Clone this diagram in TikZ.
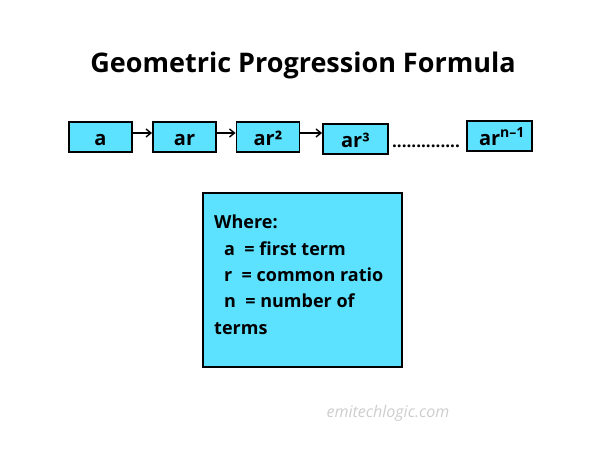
\documentclass[tikz,border=0pt]{standalone}
\usepackage{fontspec}
\setmainfont{Open Sans}
\usetikzlibrary{positioning,arrows.meta,calc}
\definecolor{boxc}{RGB}{92,225,255}
\definecolor{markc}{RGB}{205,205,205}
\tikzset{
  term/.style={draw=black, fill=boxc, line width=1.8pt, minimum width=63pt,
    minimum height=30pt, inner sep=0pt, text height=17pt, text depth=0pt,
    font=\fontsize{20}{24}\selectfont\bfseries},
  link/.style={-{Straight Barb[length=5pt,width=8pt]}, line width=1.4pt},
  title/.style={font=\fontsize{27}{32}\selectfont\bfseries},
  legend/.style={draw=black, fill=boxc, line width=1.8pt, minimum width=199pt,
    minimum height=174pt, inner sep=0pt},
}
\begin{document}
\begin{tikzpicture}[x=1pt,y=-1pt]
\useasboundingbox (0,0) rectangle (600,450);

% ------------------------------------------------- title
\node[title] (head) at (303,65) {Geometric Progression Formula};

% ------------------------------------------------- terms
\node[term] (t1) at (100.5,137) {a};
\node[term] (t2) at (184.5,137) {ar};
\node[term] (t3) at (268,137) {ar²};
\node[term, minimum width=65pt] (t4) at (355.5,139) {ar³};
\node[font=\fontsize{17}{20}\selectfont\bfseries] (dots) at (426,146) {..............};
\node[term, minimum width=65pt, text height=19pt] (tn) at (499.5,136) {\hspace*{5pt}ar\textsuperscript{n–1}};

\coordinate (lane) at (0,133);
\draw[link] (t1.east |- lane) -- (t2.west |- lane);
\draw[link] (t2.east |- lane) -- (t3.west |- lane);
\draw[link] (t3.east |- lane) -- (t4.west |- lane);

% ------------------------------------------------- legend
\node[legend] (key) at (302.5,280) {};
\node[anchor=north west, align=left, inner sep=0pt,
  font=\fontsize{18}{26.3}\selectfont\bfseries] (keytxt) at (214,215)
  {Where:\\ \hspace*{10pt}a\ \ = first term\\ \hspace*{10pt}r\ \ = common ratio\\
   \hspace*{10pt}n\ \ = number of\\ terms};

% ------------------------------------------------- watermark
\node[font=\fontsize{16}{19}\selectfont\itshape, text=markc] (mark) at (388,413) {emitechlogic.com};

\end{tikzpicture}
\end{document}
